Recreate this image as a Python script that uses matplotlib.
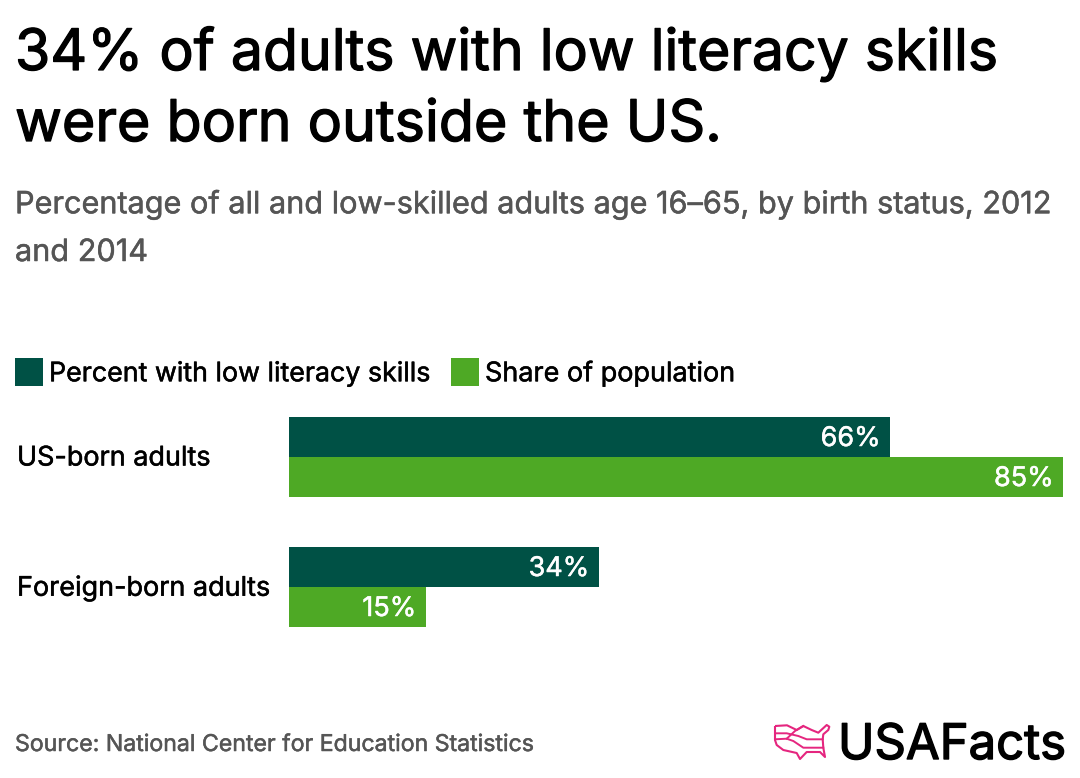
import matplotlib
matplotlib.use("Agg")
import matplotlib.pyplot as plt
import matplotlib.patheffects as pe
from matplotlib.patches import Rectangle
from matplotlib.path import Path
from matplotlib.patches import PathPatch

W, H = 1080, 778
categories = ["US-born adults", "Foreign-born adults"]
series_names = ["Percent with low literacy skills", "Share of population"]
low_literacy = [66, 34]
population = [85, 15]
title_lines = ["34% of adults with low literacy skills", "were born outside the US."]
subtitle_lines = ["Percentage of all and low-skilled adults age 16–65, by birth status, 2012", "and 2014"]
source = "Source: National Center for Education Statistics"
DARK, GREEN = "#005145", "#4ea925"
FONT = ["Inter", "DejaVu Sans"]
plt.rcParams["font.family"] = FONT

fig = plt.figure(figsize=(W/100, H/100), dpi=100, facecolor="white")
bg = fig.add_axes([0, 0, 1, 1]); bg.set_xlim(0, W); bg.set_ylim(H, 0); bg.axis("off")

px2pt = 0.72
def T(x, y, s, size, color="black", bold=0.35, **k):
    t = bg.text(x, y, s, fontsize=size*px2pt, color=color, va="center", **k)
    t.set_path_effects([pe.withStroke(linewidth=bold, foreground=color)])

T(15, 54, title_lines[0], 57.15, bold=0.9)
T(15, 126, title_lines[1], 57.35, bold=0.9)
T(15, 205, subtitle_lines[0], 30.65, "#555555")
T(15, 253, subtitle_lines[1], 30.65, "#555555")

bg.add_patch(Rectangle((15, 358), 28, 28, color=DARK, lw=0))
T(49, 374, series_names[0], 26.8)
bg.add_patch(Rectangle((451, 358), 28, 28, color=GREEN, lw=0))
T(485, 374, series_names[1], 27)

ax = fig.add_axes([289/W, 1-667/H, (1063-289)/W, (667-377)/H])
ax.set_xlim(0, 85); ax.set_ylim(290, 0); ax.axis("off")
centers = [80, 210]
for c, cat, a, b in zip(centers, categories, low_literacy, population):
    ax.barh(c-20, a, height=40, color=DARK, lw=0)
    ax.barh(c+20, b, height=40, color=GREEN, lw=0)
    for y, v in ((c-20, a), (c+20, b)):
        lab = ax.annotate(f"{v}%", (v, y), xytext=(-9.5*px2pt, -2*px2pt), textcoords="offset points",
                          ha="right", va="center", color="white", fontsize=27*px2pt)
        lab.set_path_effects([pe.withStroke(linewidth=0.35, foreground="white")])
    T(17, c+378.5, cat, 27)

T(15, 745, source, 23.1, "#555555")

# USAFacts wordmark and map-shaped logo outline
T(838, 746, "USAFacts", 49, bold=1.0)
P = "#e5267f"
outline = [(775,726),(787,725.3),(796.7,730),(803.3,726),(811.7,730),(818.3,732.7),(826.7,725),(829.3,726.7),
           (828.3,730),(823.3,734.3),(822.7,739.3),(823.3,747.7),(825,757),(820,752),(806.7,752),(800,759),
           (796.7,753),(783.3,750),(776.7,745),(775,740),(775,726)]
bg.add_patch(PathPatch(Path(outline), fc="white", ec=P, lw=1.5, joinstyle="round"))
stripes = ([(775,733.3),(786.7,733.3),(798.3,736),(806.7,739.3),(822.7,739.3)],
           [(775,739.3),(786.7,738.7),(793.3,741),(803.3,747.7),(823.3,747.7)],
           [(803.3,726),(795,731),(786.7,738.7)])
for pts in stripes:
    bg.plot(*zip(*pts), color=P, lw=1.4, solid_joinstyle="round")

fig.savefig("out.png", dpi=100)
